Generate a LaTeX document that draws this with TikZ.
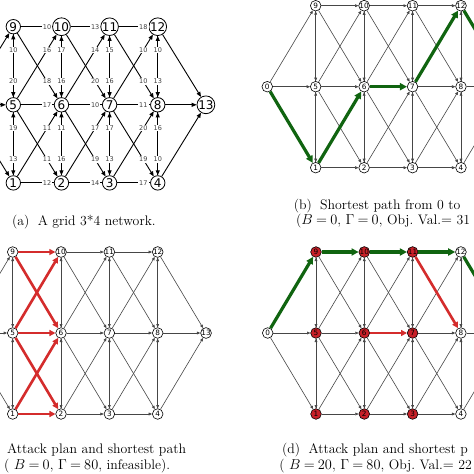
\documentclass[tikz,border=0pt]{standalone}
\usepackage{fontspec}
\newfontfamily\dejavu{DejaVu Sans}
\usetikzlibrary{arrows.meta,calc}
\definecolor{pathgreen}{RGB}{16,100,16}
\definecolor{cutred}{RGB}{212,44,44}
\definecolor{nodered}{RGB}{200,32,40}
\definecolor{edgegray}{RGB}{70,70,70}
\newcommand{\capfont}{\fontsize{13.8}{15.6}\selectfont\thickmuskip=4mu\relax}
\tikzset{
  bignode/.style={circle, draw=black, line width=0.8pt, minimum size=14.4pt, inner sep=0pt, font=\dejavu\fontsize{12}{12}\selectfont},
  smallnode/.style={circle, draw=black, line width=0.6pt, minimum size=10.6pt, inner sep=0pt, font=\dejavu\fontsize{7.3}{7.3}\selectfont},
  edgeA/.style={draw=black, line width=0.9pt, -{Triangle[length=5pt,width=4pt]}},
  edgeAplain/.style={draw=black, line width=0.9pt},
  edgelab/.style={fill=white, inner xsep=1.2pt, inner ysep=0.8pt, font=\dejavu\fontsize{6.5}{6.5}\selectfont, text=black!75},
  edgeB/.style={draw=edgegray, line width=0.6pt, -{Triangle[length=3.4pt,width=2.8pt]}},
  greenpath/.style={draw=pathgreen, line width=3.2pt, -{Triangle[length=7pt,width=7pt]}},
  redcut/.style={draw=cutred, line width=2.6pt, -{Triangle[length=6pt,width=6pt]}},
  captext/.style={inner sep=0pt, anchor=base west, font=\capfont},
}
% nodes 1..12 of a panel: prefix, x of column 1, column step, y of top row, row step, style, red nodes
\newcommand{\mknodes}[7]{%
  \foreach \n/\c/\r in {1/1/2,2/2/2,3/3/2,4/4/2,5/1/1,6/2/1,7/3/1,8/4/1,9/1/0,10/2/0,11/3/0,12/4/0}{%
    \gdef\fc{white}%
    \foreach \k in {#7}{\ifnum\k=\n\relax\gdef\fc{nodered}\fi}%
    \node[#6, fill=\fc] (#1\n) at ({#2+(\c-1)*#3},{#4+\r*#5}) {\n};
  }%
}
\def\allE{0/9,0/5,0/1,1/2,2/3,3/4,5/6,6/7,7/8,9/10,10/11,11/12,12/13,8/13,4/13,9/5,5/9,5/1,1/5,10/6,6/10,6/2,2/6,11/7,7/11,7/3,3/7,12/8,8/12,8/4,4/8,9/6,5/10,5/2,1/6,10/7,6/11,6/3,2/7,11/8,7/12,7/4,3/8}
\newcommand{\sethl}[1]{\expandafter\def\csname hl#1\endcsname{1}}
\newcommand{\mkedges}[1]{%
  \foreach \s/\t in \allE {%
    \ifcsname hl#1\s-\t\endcsname\else\draw[edgeB] (#1\s) -- (#1\t);\fi
  }%
}
\sethl{b0-1}\sethl{b1-6}\sethl{b6-7}\sethl{b7-12}\sethl{b12-13}
\sethl{c9-10}\sethl{c9-6}\sethl{c5-10}\sethl{c5-6}\sethl{c5-2}\sethl{c1-6}\sethl{c1-2}
\sethl{d0-9}\sethl{d9-10}\sethl{d10-11}\sethl{d11-12}\sethl{d12-13}\sethl{d11-8}\sethl{d6-7}
\begin{document}
\begin{tikzpicture}[x=1pt,y=-1pt]
\useasboundingbox (0,0) rectangle (474,474);
\clip (0,0) rectangle (474,474);
\fill[white] (0,0) rectangle (474,474);

% ---------- panel (a)
\mknodes{a}{13.3}{48.15}{26.7}{78.1}{bignode}{-1}
\coordinate (a0) at (-34.85,104.8);
\node[bignode, fill=white] (a13) at (205.9,104.8) {13};
\foreach \s/\t in {1/2,2/3,3/4,5/6,6/7,7/8,9/10,10/11,11/12}
  \draw[edgeAplain] (a\s) -- (a\t);
\foreach \s/\t in {0/9,0/5,0/1,12/13,8/13,4/13,9/5,5/9,5/1,1/5,10/6,6/10,6/2,2/6,11/7,7/11,7/3,3/7,12/8,8/12,8/4,4/8,9/6,5/10,5/2,1/6,10/7,6/11,6/3,2/7,11/8,7/12,7/4,3/8}
  \draw[edgeA] (a\s) -- (a\t);
\foreach \s/\t/\l in {9/10/10,10/11/13,11/12/18,5/6/17,6/7/10,7/8/11,1/2/12,2/3/14,3/4/17,
  5/9/10,9/5/20,1/5/19,5/1/13,6/10/17,10/6/16,2/6/11,6/2/16,7/11/15,11/7/16,3/7/17,7/3/13,
  8/12/10,12/8/13,4/8/16,8/4/10,5/10/16,9/6/18,6/11/14,10/7/20,7/12/10,11/8/10,1/6/11,
  5/2/11,2/7/17,6/3/19,3/8/20,7/4/19}
  \node[edgelab] (la\s to\t) at ($(a\s)!0.7!(a\t)$) {\l};
\node[captext] (capa) at (12,225) {(a)\hspace{0.6em}A grid 3*4 network.};

% ---------- panel (b)
\mknodes{b}{315.7}{48.43}{5.7}{81}{smallnode}{-1}
\node[smallnode, fill=white] (b0) at (267.27,86.7) {0};
\coordinate (b13) at (509.42,86.7);
\mkedges{b}
\draw[greenpath] (b0) -- (b1);
\draw[greenpath] (b1) -- (b6);
\draw[greenpath] (b6) -- (b7);
\draw[greenpath] (b7) -- (b12);
\draw[greenpath] (b12) -- (b13);
\node[captext] (capb1) at (293.7,209) {(b)\hspace{0.6em}Shortest path from 0 to};
\node[captext] (capb2) at (296,224.5) {($B=0$, $\Gamma=0$, Obj.\ Val.$=$ 31};

% ---------- panel (c)
\mknodes{c}{12.7}{48.33}{252}{81}{smallnode}{-1}
\coordinate (c0) at (-35.63,333);
\node[smallnode, fill=white] (c13) at (206.02,333) {13};
\mkedges{c}
\foreach \s/\t in {9/10,9/6,5/10,5/6,5/2,1/6,1/2}
  \draw[redcut] (c\s) -- (c\t);
\node[captext] (capc1) at (7,453.7) {Attack plan and shortest path};
\node[captext] (capc2) at (4,469.3) {( $B=0$, $\Gamma=80$, infeasible).};

% ---------- panel (d)
\mknodes{d}{316}{48.3}{252}{81}{smallnode}{1,2,3,5,6,7,9,10,11}
\node[smallnode, fill=white] (d0) at (267.7,333) {0};
\coordinate (d13) at (509.2,333);
\mkedges{d}
\foreach \s/\t in {0/9,9/10,10/11,11/12,12/13}
  \draw[greenpath] (d\s) -- (d\t);
\draw[redcut] (d11) -- (d8);
\draw[redcut] (d6) -- (d7);
\node[captext] (capd1) at (282,453.7) {(d)\hspace{0.6em}Attack plan and shortest p};
\node[captext] (capd2) at (279.2,469.3) {( $B=20$, $\Gamma=80$, Obj.\ Val.$=$ 22};
\end{tikzpicture}
\end{document}
